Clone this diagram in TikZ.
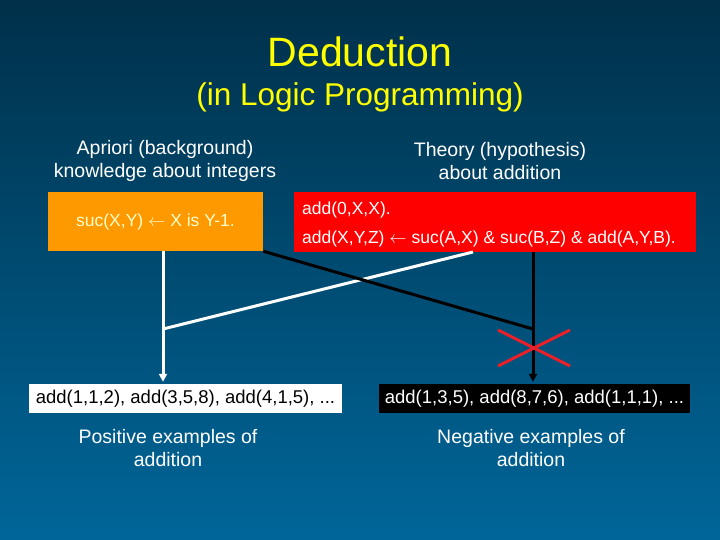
\documentclass[tikz,border=0pt]{standalone}
\usepackage{fontspec}
\setmainfont{Liberation Sans}
\usetikzlibrary{arrows.meta}
\definecolor{bgtop}{HTML}{00304A}
\definecolor{bgbot}{HTML}{006699}
\definecolor{ttl}{HTML}{FFFF00}
\definecolor{orng}{HTML}{FF9900}
\definecolor{pale}{HTML}{FFFFCC}
\definecolor{xred}{HTML}{E8202A}
\tikzset{
  lbl/.style={text=white, align=center, font=\fontsize{19.5}{23}\selectfont, inner sep=0pt},
  boxtxt/.style={font=\fontsize{17.5}{21}\selectfont, inner sep=0pt},
  extxt/.style={font=\fontsize{18.5}{21}\selectfont, inner sep=0pt},
  wline/.style={draw=white, line width=3pt},
  bline/.style={draw=black, line width=3pt},
  tip/.style={-{Triangle[width=8pt,length=8pt]}},
}
\begin{document}
\begin{tikzpicture}[x=1pt,y=-1pt]
\shade[top color=bgtop, bottom color=bgbot] (0,0) rectangle (720,540);
\useasboundingbox (0,0) rectangle (720,540);
% titles
\node[text=ttl, font=\fontsize{41}{48}\selectfont, inner sep=0pt] (title) at (360,52) {Deduction};
\node[text=ttl, font=\fontsize{31.5}{36}\selectfont, inner sep=0pt] (sub) at (360,97) {(in Logic Programming)};
% headings
\node[lbl] (apriori) at (165,161) {Apriori (background)\\knowledge about integers};
\node[lbl] (theory) at (500,161) {Theory (hypothesis)\\about addition};
% boxes
\node[fill=orng, minimum width=215pt, minimum height=59pt, inner sep=0pt] (orange) at (155.5,221.5) {};
\node[boxtxt, text=pale] (suc) at (155.5,221.5) {suc(X,Y) $\leftarrow$ X is Y-1.};
\node[fill=red, minimum width=402pt, minimum height=60pt, inner sep=0pt] (redbox) at (495,222) {};
\node[boxtxt, text=white, anchor=west] (r1) at (302,210) {add(0,X,X).};
\node[boxtxt, text=white, anchor=west] (r2) at (302,239) {add(X,Y,Z) $\leftarrow$ suc(A,X) \& suc(B,Z) \& add(A,Y,B).};
% example boxes
\node[fill=white, minimum width=313pt, minimum height=29pt, inner sep=0pt] (pos) at (185.5,398.5) {};
\node[extxt, text=black] (post) at (185.5,398.5) {add(1,1,2), add(3,5,8), add(4,1,5), ...};
\node[fill=black, minimum width=311pt, minimum height=29pt, inner sep=0pt] (neg) at (534.5,398.5) {};
\node[extxt, text=white] (negt) at (534.5,398.5) {add(1,3,5), add(8,7,6), add(1,1,1), ...};
% captions
\node[lbl] (posl) at (168,448.5) {Positive examples of\\addition};
\node[lbl] (negl) at (531,448.5) {Negative examples of\\addition};
% connector coordinates
\coordinate (os) at (163,251);
\coordinate (wm) at (163,329);
\coordinate (rw) at (473,252);
\coordinate (rb) at (533,252);
\coordinate (bm) at (533,329);
% connectors
\draw[wline] (rw) -- (wm);
\draw[bline] (orange.south east) -- (bm);
\draw[wline, tip] (os) -- ([yshift=2pt]os |- pos.north);
\draw[bline, tip] (rb) -- ([yshift=2pt]rb |- neg.north);
% cross
\draw[xred, line width=3pt] (498,330) -- (570,366);
\draw[xred, line width=3pt] (498,366) -- (570,330);
\end{tikzpicture}
\end{document}
